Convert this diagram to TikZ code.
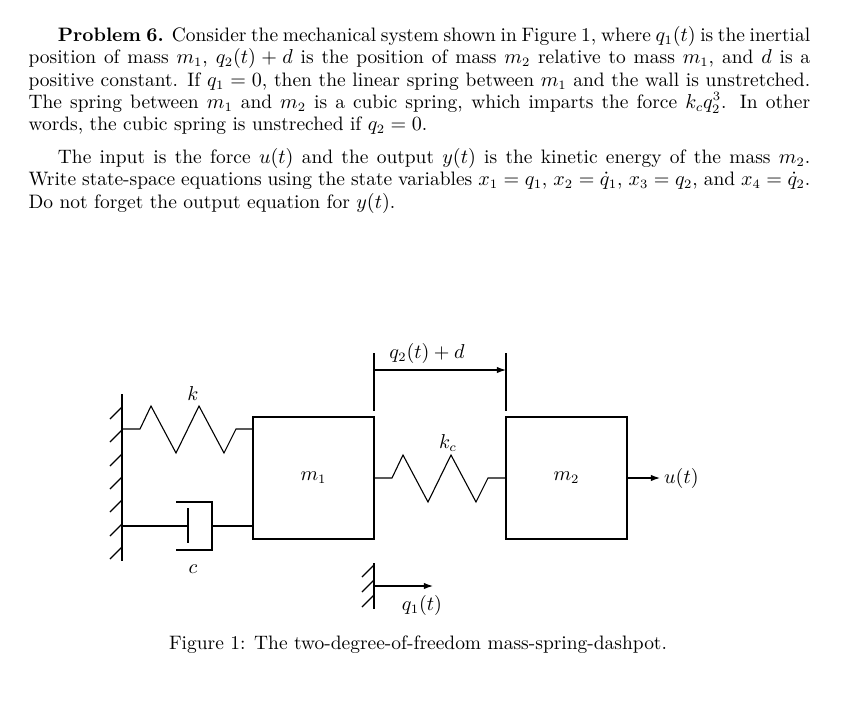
\documentclass[tikz,border=0pt]{standalone}
\usetikzlibrary{arrows.meta}
\begin{document}
\begin{tikzpicture}[x=0.545pt,y=-0.545pt,line width=0.6pt,
  font=\fontsize{10.6}{12.1}\selectfont,
  hatch/.style={line width=0.6pt},
  arr/.style={-{Latex[length=5pt,width=3.5pt]}}]
\useasboundingbox (0,0) rectangle (846,718);
\node[anchor=north west,text width=426pt,align=justify,inner sep=0pt] (txt) at (28,26) {%
\hspace*{16pt}\textbf{Problem 6.} Consider the mechanical system shown in Figure 1, where $q_1(t)$ is the inertial\linebreak
position of mass $m_1$, $q_2(t)+d$ is the position of mass $m_2$ relative to mass $m_1$, and $d$ is a\linebreak
positive constant. If $q_1=0$, then the linear spring between $m_1$ and the wall is unstretched.\linebreak
The spring between $m_1$ and $m_2$ is a cubic spring, which imparts the force $k_cq_2^3$. In other\linebreak
words, the cubic spring is unstreched if $q_2=0$.\par\vspace{6pt}
\hspace*{16pt}The input is the force $u(t)$ and the output $y(t)$ is the kinetic energy of the mass $m_2$.\linebreak
Write state-space equations using the state variables $x_1=q_1$, $x_2=\dot q_1$, $x_3=q_2$, and $x_4=\dot q_2$.\linebreak
Do not forget the output equation for $y(t)$.\par};
% wall
\coordinate (wt) at (122,394); \coordinate (wb) at (122,561);
\draw (wt) -- (wb);
\foreach \y in {407,430,454,477,500,524,547} \draw[hatch] (122,\y) -- (110,\y+12);
% masses
\node[draw,minimum width=121*0.545pt,minimum height=122*0.545pt,inner sep=0pt] (m1) at (313.5,478) {$m_1$};
\node[draw,minimum width=121*0.545pt,minimum height=122*0.545pt,inner sep=0pt] (m2) at (566.5,478) {$m_2$};
% spring k
\draw (122,429) -- (140,429) -- (151,406) -- (176,453) -- (199,406) -- (224,453) -- (236,429) -- (m1.west |- 0,429);
\node (k) at (193,394) {$k$};
% dashpot
\draw (122,526) -- (188,526) (188,508) -- (188,543);
\draw (176,502) -- (212,502) -- (212,550) -- (176,550);
\draw (212,526) -- (m1.west |- 0,526);
\node (c) at (193,569) {$c$};
% kc spring
\draw (m1.east) -- (392,478) -- (403,455) -- (428,502) -- (451,455) -- (476,502) -- (488,478) -- (m2.west);
\node (kc) at (448,443) {$k_c$};
% u(t)
\coordinate (ue) at (660,478);
\draw[arr] (m2.east) -- (ue);
\node[anchor=west,inner sep=2pt] (u) at (ue) {$u(t)$};
% q2+d
\coordinate (a1) at (374,353); \coordinate (a2) at (506,353);
\draw (a1) -- (374,411) (a2) -- (506,411);
\draw[arr] (374,370) -- (506,370);
\node (q2) at (427,353) {$q_2(t)+d$};
% q1
\draw (374,563) -- (374,609);
\foreach \y in {565,580,595} \draw[hatch] (374,\y) -- (362,\y+12);
\coordinate (q1e) at (433,586);
\draw[arr] (374,586) -- (q1e);
\node (q1) at (422,605) {$q_1(t)$};
\node (cap) at (418,645) {Figure 1: The two-degree-of-freedom mass-spring-dashpot.};
\end{tikzpicture}
\end{document}
